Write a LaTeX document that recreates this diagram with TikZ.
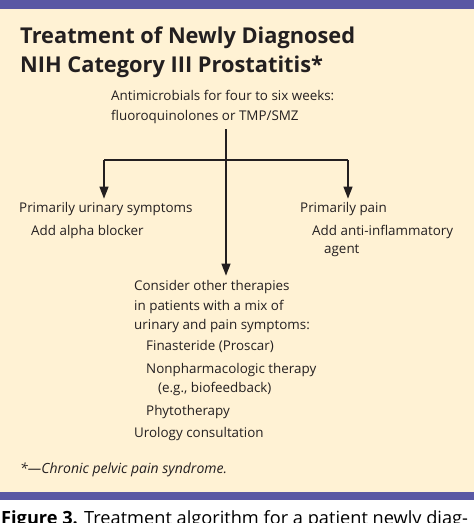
\documentclass[tikz,border=0pt]{standalone}
\usepackage{fontspec}
\setmainfont{Open Sans}
\usetikzlibrary{arrows.meta}

\definecolor{barpurple}{HTML}{5A58A4}
\definecolor{cream}{HTML}{FFF2D4}
\definecolor{ink}{HTML}{231F20}

\begin{document}
\begin{tikzpicture}[x=1pt, y=-1pt,
        heading/.style={anchor=base west, inner sep=0pt, text=ink, font=\fontsize{21.8}{26}\selectfont\bfseries},
        line/.style={anchor=base west, inner sep=0pt, text=ink, font=\fontsize{13.4}{16}\selectfont},
        note/.style={anchor=base west, inner sep=0pt, text=ink, font=\fontsize{14}{16}\selectfont\itshape},
        caption/.style={anchor=base west, inner sep=0pt, text=black, font=\fontsize{18.2}{20}\selectfont},
        bar/.style={draw=ink, line width=1.3pt},
        paths/.style={draw=ink, line width=1.3pt, -{Triangle[length=12pt, width=9pt]}}
    ]
        % Frame
        \useasboundingbox (0,0) rectangle (474,523);
        \clip (0,0) rectangle (474,523);
        \fill[cream] (0,0) rectangle (474,492);
        \fill[barpurple] (0,0) rectangle (474,9);
        \fill[barpurple] (0,492) rectangle (474,500);

        % Title
        \node[heading] (title1) at (20,43) {Treatment of Newly Diagnosed};
        \node[heading] (title2) at (20,72) {NIH Category III Prostatitis*};

        % Nodes
        \node[line] (anti1) at (111,100) {Antimicrobials for four to six weeks:};
        \node[line] (anti2) at (111,120) {fluoroquinolones or TMP/SMZ};

        \node[line] (urin1) at (19,212) {Primarily urinary symptoms};
        \node[line] (urin2) at (31,235) {Add alpha blocker};

        \node[line] (pain1) at (300,212) {Primarily pain};
        \node[line] (pain2) at (312,235) {Add anti-inflammatory};
        \node[line] (pain3) at (324,253) {agent};

        \node[line] (mix1) at (134,290) {Consider other therapies};
        \node[line] (mix2) at (134,310) {in patients with a mix of};
        \node[line] (mix3) at (134,329) {urinary and pain symptoms:};
        \node[line] (mix4) at (146,350) {Finasteride (Proscar)};
        \node[line] (mix5) at (146,373) {Nonpharmacologic therapy};
        \node[line] (mix6) at (158,392) {(e.g., biofeedback)};
        \node[line] (mix7) at (146,415) {Phytotherapy};
        \node[line] (mix8) at (134,437) {Urology consultation};

        % Footnote and caption
        \node[note] (foot) at (20,473) {*---Chronic pelvic pain syndrome.};
        \node[caption] (cap) at (1,524.5) {\textbf{Figure 3.} Treatment algorithm for a patient newly diag-};

        % Paths: branching
        \coordinate (fork) at (226,160);
        \coordinate (lfork) at (104,160);
        \coordinate (rfork) at (348,160);

        \draw[paths, shorten >=4pt] ([yshift=-6pt]anti2.south -| fork) -- (fork |- mix1.north);
        \draw[bar] (lfork) -- (rfork);
        \draw[paths, shorten >=3pt] (lfork) -- (lfork |- urin1.north);
        \draw[paths, shorten >=3pt] (rfork) -- (rfork |- pain1.north);
    \end{tikzpicture}
\end{document}
